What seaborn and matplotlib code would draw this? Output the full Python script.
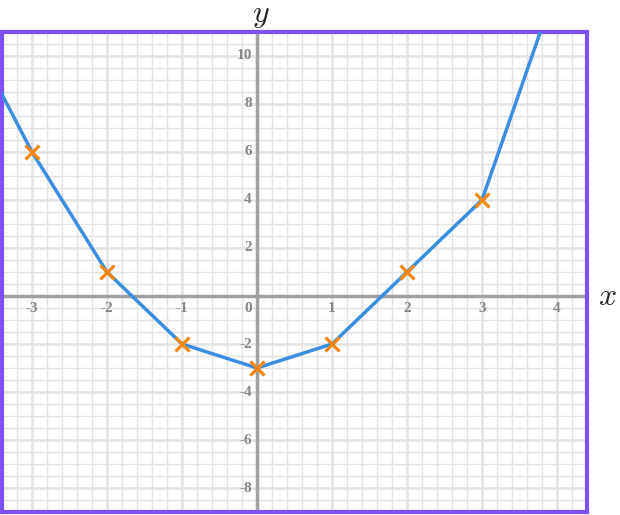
import numpy as np
import pandas as pd
import matplotlib
matplotlib.use("Agg")
import matplotlib.pyplot as plt
import seaborn as sns

# Line data (extended to the frame edges) and the plotted points
line_x = [-4, -3, -2, -1, 0, 1, 2, 3, 4]
line_y = [12, 6, 1, -2, -3, -2, 1, 4, 13]
pts_x = [-3, -2, -1, 0, 1, 2, 3]
pts_y = [6, 1, -2, -3, -2, 1, 4]

x_ticks = [-3, -2, -1, 1, 2, 3, 4]
y_ticks = [-8, -6, -4, -2, 2, 4, 6, 8, 10]

sns.set_style("white")
plt.rcParams["font.family"] = ["Liberation Serif", "DejaVu Serif"]
plt.rcParams["mathtext.fontset"] = "cm"

fig = plt.figure(figsize=(6.2, 5.15), dpi=100)
ax = fig.add_axes([2 / 620, 3 / 515, 585 / 620, 480 / 515])
ax.set_xlim(-3.4, 4.4)
ax.set_ylim(-9, 11)

# graph paper grid
for v in np.arange(-3.4, 4.41, 0.2):
    major = abs(v - round(v)) < 1e-6
    ax.axvline(v, color="#e3e3e3", lw=1.8 if major else 1.0, zorder=0)
for v in np.arange(-9, 11.01, 0.5):
    major = abs(v / 2 - round(v / 2)) < 1e-6
    ax.axhline(v, color="#e3e3e3", lw=1.8 if major else 1.0, zorder=0)

ax.axhline(0, color="#a0a0a0", lw=2.5, zorder=1)
ax.axvline(0, color="#a0a0a0", lw=2.5, zorder=1)

df_line = pd.DataFrame({"x": line_x, "y": line_y})
df_pts = pd.DataFrame({"x": pts_x, "y": pts_y})
sns.lineplot(data=df_line, x="x", y="y", ax=ax, color="#3a8ee0", lw=2.5,
             sort=False, zorder=3)
ax.plot(df_pts["x"], df_pts["y"], linestyle="none", marker="x", ms=10,
        mew=2.3, color="#f5870f", zorder=4)

tick_style = dict(fontsize=11, color="#858585", fontweight="bold")
for t in x_ticks:
    ax.text(t, -0.5, "-%d" % -t if t < 0 else str(t), ha="center",
            va="center", **tick_style)
for t in y_ticks:
    ax.text(-0.07, t, "-%d" % -t if t < 0 else str(t), ha="right",
            va="center", **tick_style)
ax.text(-0.07, -0.5, "0", ha="right", va="center", **tick_style)

ax.set_xticks([])
ax.set_yticks([])
ax.set_xlabel("")
ax.set_ylabel("")
for s in ax.spines.values():
    s.set_color("#7f50ff")
    s.set_linewidth(3)

fig.text(607 / 620, 1 - 305 / 515, "$x$", fontsize=23, ha="center", va="baseline")
fig.text(261 / 620, 1 - 1 / 515, "$y$", fontsize=23, ha="center", va="top")

fig.savefig("out.png", dpi=100)
